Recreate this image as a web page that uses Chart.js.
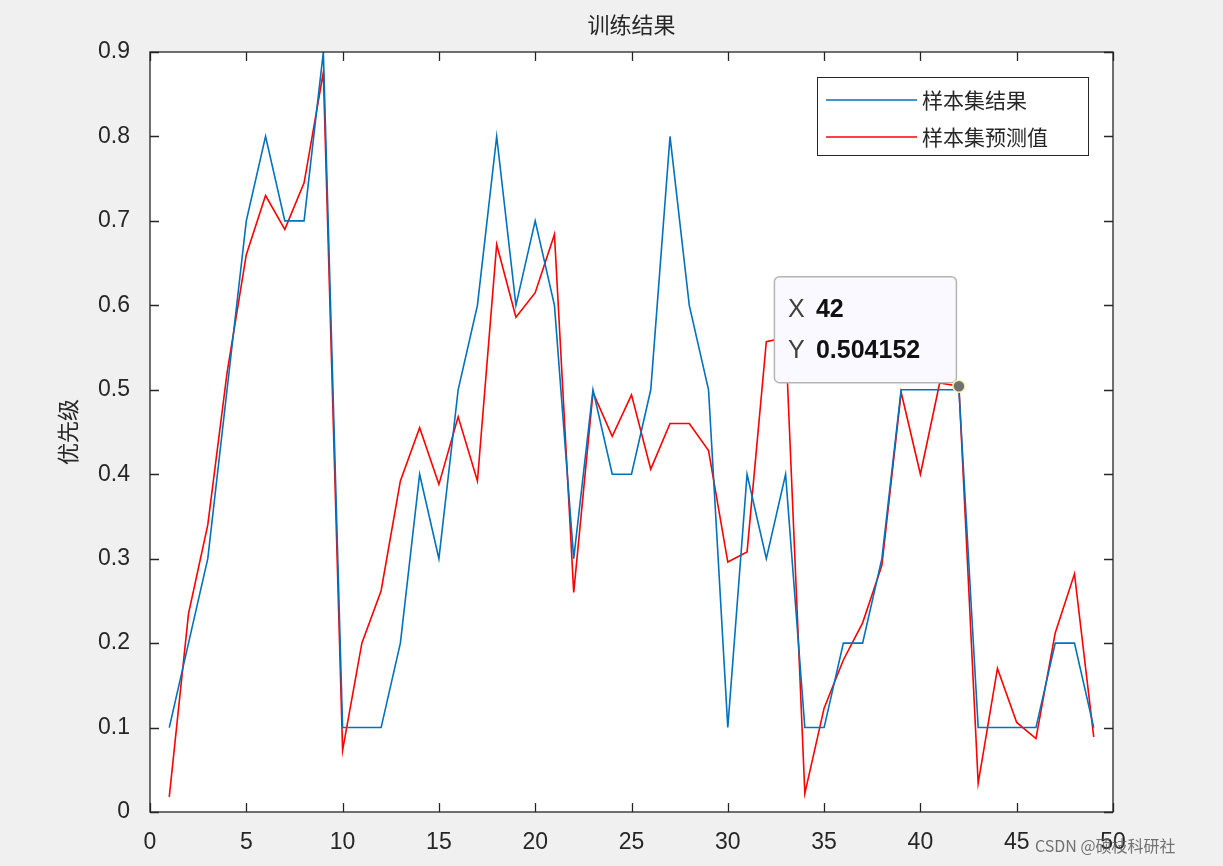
<!DOCTYPE html>
<html><head><meta charset="utf-8">
<script src="https://cdn.jsdelivr.net/npm/chart.js@4.4.0/dist/chart.umd.min.js"></script>
<style>html,body{margin:0;padding:0;background:#f0f0f0;}#wrap{width:1223px;height:866px;}</style>
</head><body><div id="wrap"><canvas id="c" width="1223" height="866"></canvas></div>
<script>
const xValues = [1,2,3,4,5,6,7,8,9,10,11,12,13,14,15,16,17,18,19,20,21,22,23,24,25,26,27,28,29,30,31,32,33,34,35,36,37,38,39,40,41,42,43,44,45,46,47,48,49];
const sampleResult = [0.1,0.2,0.3,0.5,0.7,0.8,0.7,0.7,0.9,0.1,0.1,0.1,0.2,0.4,0.3,0.5,0.6,0.8,0.6,0.7,0.6,0.3,0.5,0.4,0.4,0.5,0.8,0.6,0.5,0.1,0.4,0.3,0.4,0.1,0.1,0.2,0.2,0.3,0.5,0.5,0.5,0.5,0.1,0.1,0.1,0.1,0.2,0.2,0.1];
const samplePredict = [0.018,0.235,0.34,0.52,0.66,0.73,0.69,0.745,0.876,0.073,0.2,0.262,0.392,0.455,0.388,0.468,0.392,0.672,0.586,0.615,0.684,0.26,0.497,0.445,0.494,0.406,0.46,0.46,0.428,0.296,0.308,0.557,0.562,0.022,0.123,0.18,0.224,0.292,0.497,0.4,0.508,0.504152,0.034,0.17,0.106,0.087,0.212,0.282,0.089];
const xTicks = [0,5,10,15,20,25,30,35,40,45,50];
const yTicks = [0,0.1,0.2,0.3,0.4,0.5,0.6,0.7,0.8,0.9];
const titleText = '训练结果';
const yLabel = '优先级';
const legendLabels = ['样本集结果','样本集预测值'];
const tipIndex = 41;

const sansCJK = '"Noto Sans CJK SC", "Noto Sans", sans-serif';
const sansLat = '"Liberation Sans", Arial, sans-serif';

const decor = {
  id: 'decor',
  beforeDraw(chart) {
    const {ctx, chartArea: a} = chart;
    ctx.save();
    ctx.fillStyle = '#f0f0f0';
    ctx.fillRect(0, 0, chart.width, chart.height);
    ctx.fillStyle = '#ffffff';
    ctx.fillRect(a.left, a.top, a.right - a.left, a.bottom - a.top);
    ctx.restore();
  },
  afterDatasetsDraw(chart) {
    const {ctx, chartArea: a, scales} = chart;
    const xs = scales.x, ys = scales.y;
    ctx.save();
    ctx.strokeStyle = '#262626';
    ctx.lineWidth = 1.3;
    ctx.strokeRect(a.left, a.top, a.right - a.left, a.bottom - a.top);
    ctx.beginPath();
    xTicks.forEach(v => {
      const px = Math.round(xs.getPixelForValue(v)) + 0.5;
      ctx.moveTo(px, a.bottom); ctx.lineTo(px, a.bottom - 9);
      ctx.moveTo(px, a.top); ctx.lineTo(px, a.top + 9);
    });
    yTicks.forEach(v => {
      const py = Math.round(ys.getPixelForValue(v)) + 0.5;
      ctx.moveTo(a.left, py); ctx.lineTo(a.left + 9, py);
      ctx.moveTo(a.right, py); ctx.lineTo(a.right - 9, py);
    });
    ctx.stroke();

    ctx.fillStyle = '#262626';
    ctx.font = '22px ' + sansCJK;
    ctx.textAlign = 'center';
    ctx.textBaseline = 'middle';
    ctx.fillText(titleText, (a.left + a.right) / 2, 25);

    ctx.save();
    ctx.translate(68, (a.top + a.bottom) / 2);
    ctx.rotate(-Math.PI / 2);
    ctx.fillText(yLabel, 0, 0);
    ctx.restore();

    const lx = 817, ly = 77, lw = 271, lh = 78;
    ctx.fillStyle = '#ffffff';
    ctx.fillRect(lx, ly, lw, lh);
    ctx.strokeStyle = '#262626';
    ctx.lineWidth = 1;
    ctx.strokeRect(lx + 0.5, ly + 0.5, lw, lh);
    const cols = ['#0072BD', '#FF0000'];
    legendLabels.forEach((t, i) => {
      const yy = ly + 23 + i * 37;
      ctx.strokeStyle = cols[i];
      ctx.lineWidth = 1.4;
      ctx.beginPath(); ctx.moveTo(826, yy); ctx.lineTo(917, yy); ctx.stroke();
      ctx.fillStyle = '#262626';
      ctx.font = '21px ' + sansCJK;
      ctx.textAlign = 'left';
      ctx.textBaseline = 'middle';
      ctx.fillText(t, 922, yy);
    });

    const tx = xs.getPixelForValue(xValues[tipIndex]);
    const ty = ys.getPixelForValue(samplePredict[tipIndex]);
    const bw = 182, bh = 106;
    const bx = tx - 3 - bw, by = ty - 4 - bh;
    ctx.beginPath();
    if (ctx.roundRect) ctx.roundRect(bx + 0.5, by + 0.5, bw, bh, 5); else ctx.rect(bx + 0.5, by + 0.5, bw, bh);
    ctx.fillStyle = '#f9f9ff';
    ctx.fill();
    ctx.strokeStyle = '#b4b4b4';
    ctx.lineWidth = 1.5;
    ctx.stroke();
    ctx.textAlign = 'left';
    ctx.textBaseline = 'middle';
    ctx.fillStyle = '#404040';
    ctx.font = '25px ' + sansLat;
    ctx.fillText('X', bx + 14, by + 34);
    ctx.fillText('Y', bx + 14, by + 75);
    ctx.fillStyle = '#111111';
    ctx.font = 'bold 25px ' + sansLat;
    ctx.fillText(String(xValues[tipIndex]), bx + 42, by + 34);
    ctx.fillText(samplePredict[tipIndex].toFixed(6), bx + 42, by + 75);
    ctx.beginPath();
    ctx.arc(tx, ty, 6, 0, Math.PI * 2);
    ctx.fillStyle = '#707070';
    ctx.fill();
    ctx.strokeStyle = '#f5f0b0';
    ctx.lineWidth = 1.5;
    ctx.stroke();

    ctx.font = '16px ' + sansCJK;
    ctx.fillStyle = 'rgba(90,90,90,0.85)';
    ctx.textAlign = 'left';
    ctx.fillText('CSDN @硕枝科研社', 1035, 846);
    ctx.restore();
  }
};

new Chart(document.getElementById('c'), {
  type: 'line',
  data: {
    datasets: [
      { label: legendLabels[0], data: xValues.map((x, i) => ({x, y: sampleResult[i]})), borderColor: '#0072BD', borderWidth: 1.6, pointRadius: 0, tension: 0, fill: false },
      { label: legendLabels[1], data: xValues.map((x, i) => ({x, y: samplePredict[i]})), borderColor: '#FF0000', borderWidth: 1.6, pointRadius: 0, tension: 0, fill: false }
    ]
  },
  options: {
    responsive: false,
    animation: false,
    devicePixelRatio: 1,
    layout: { padding: { left: 0, top: 52, right: 110, bottom: 0 } },
    plugins: { legend: { display: false }, title: { display: false }, tooltip: { enabled: false } },
    events: [],
    scales: {
      x: {
        type: 'linear', min: 0, max: 50,
        afterBuildTicks: s => { s.ticks = xTicks.map(v => ({value: v})); },
        afterFit: s => { s.height = 54; },
        grid: { display: false },
        border: { display: false },
        ticks: { color: '#262626', font: { family: sansLat, size: 23 }, padding: 9, maxRotation: 0, autoSkip: false }
      },
      y: {
        type: 'linear', min: 0, max: 0.9,
        afterBuildTicks: s => { s.ticks = yTicks.map(v => ({value: v})); },
        afterFit: s => { s.width = 150; },
        grid: { display: false },
        border: { display: false },
        ticks: { color: '#262626', font: { family: sansLat, size: 23 }, padding: 12, autoSkip: false, callback: v => (v === 0 ? '0' : Number(v).toFixed(1)) }
      }
    }
  },
  plugins: [decor]
});
</script></body></html>
